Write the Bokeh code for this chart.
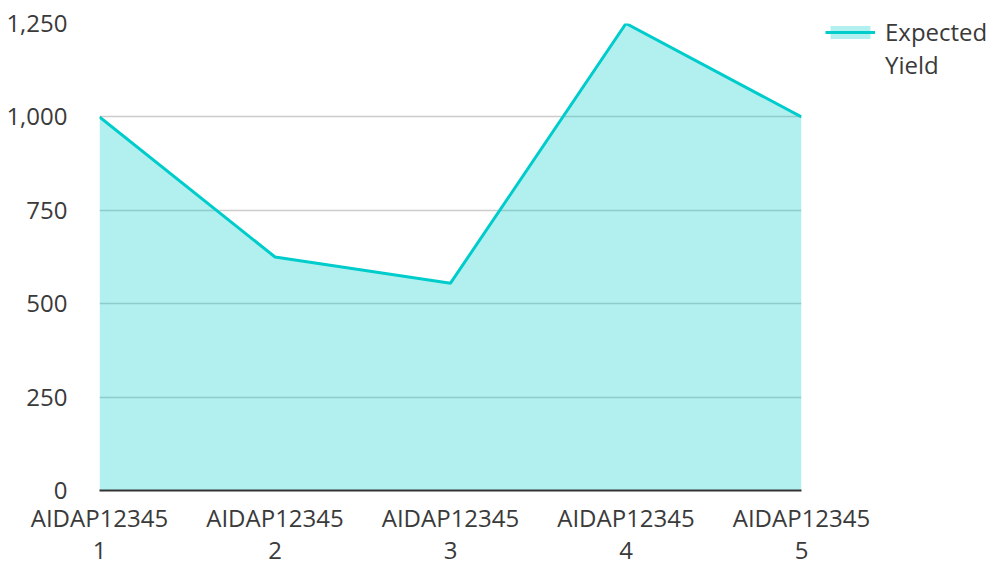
from bokeh.plotting import figure
from bokeh.models import (ColumnDataSource, Range1d, FixedTicker, NumeralTickFormatter,
                          Legend, LegendItem, LinearAxis)
from bokeh.embed import file_html
from bokeh.resources import INLINE

categories = ["AIDAP12345 1", "AIDAP12345 2", "AIDAP12345 3", "AIDAP12345 4", "AIDAP12345 5"]
expected_yield = [1000, 625, 555, 1250, 1000]
y_ticks = [0, 250, 500, 750, 1000, 1250]
series_name = "Expected Yield"

x = list(range(len(categories)))
src = ColumnDataSource(dict(x=x, y=expected_yield, y0=[0] * len(x)))

FONT = "Open Sans"
TEXT = "#3a3a3a"
TEAL = "#00cccc"

p = figure(output_backend="svg", toolbar_location=None,
           frame_width=702, frame_height=467,
           min_border_left=99, min_border_right=184, min_border_top=23, min_border_bottom=0,
           x_range=Range1d(0, len(x) - 1), y_range=Range1d(0, 1250))
p.outline_line_color = None
p.background_fill_color = "white"
p.border_fill_color = "white"

area = p.varea(x="x", y1="y0", y2="y", source=src, fill_color=TEAL, fill_alpha=0.3)
line = p.line(x="x", y="y", source=src, line_color=TEAL, line_width=3)
# invisible companion so the wrapped legend label gets its second row
blank = p.line(x=[], y=[], line_alpha=0)

def style_x(ax, standoff):
    ax.ticker = FixedTicker(ticks=x)
    ax.major_tick_line_color = None
    ax.minor_tick_line_color = None
    ax.major_label_standoff = standoff
    ax.major_label_text_font = FONT
    ax.major_label_text_font_size = "24px"
    ax.major_label_text_color = TEXT

# first row of category label (on main axis)
p.xaxis.major_label_overrides = {i: c.split(" ")[0] for i, c in enumerate(categories)}
p.xaxis.axis_line_color = "#333333"
p.xaxis.axis_line_width = 2
style_x(p.xaxis[0], 4)

# second row of category label
x2 = LinearAxis(major_label_overrides={i: c.split(" ")[1] for i, c in enumerate(categories)},
                axis_line_color=None)
style_x(x2, -1)
p.add_layout(x2, "below")

p.yaxis.ticker = FixedTicker(ticks=y_ticks)
p.yaxis.formatter = NumeralTickFormatter(format="0,0")
p.yaxis.axis_line_color = None
p.yaxis.major_tick_line_color = None
p.yaxis.minor_tick_line_color = None
p.yaxis.major_label_standoff = 26
p.yaxis.major_label_text_font = FONT
p.yaxis.major_label_text_font_size = "24px"
p.yaxis.major_label_text_color = TEXT

p.xgrid.grid_line_color = None
p.ygrid.ticker = FixedTicker(ticks=y_ticks)
p.ygrid.grid_line_color = "#cccccc"
p.ygrid.grid_line_width = 1.5

words = series_name.split(" ")
legend = Legend(items=[LegendItem(label=words[0], renderers=[area, line]),
                       LegendItem(label=words[1], renderers=[blank])],
                location=(24, 409), orientation="vertical",
                glyph_width=50, glyph_height=16, label_standoff=10,
                padding=0, margin=0, spacing=-1,
                border_line_color=None, background_fill_alpha=0,
                label_text_font=FONT, label_text_font_size="24px",
                label_text_color=TEXT)
p.add_layout(legend, "right")

open("out.html", "w").write(file_html(p, INLINE))
